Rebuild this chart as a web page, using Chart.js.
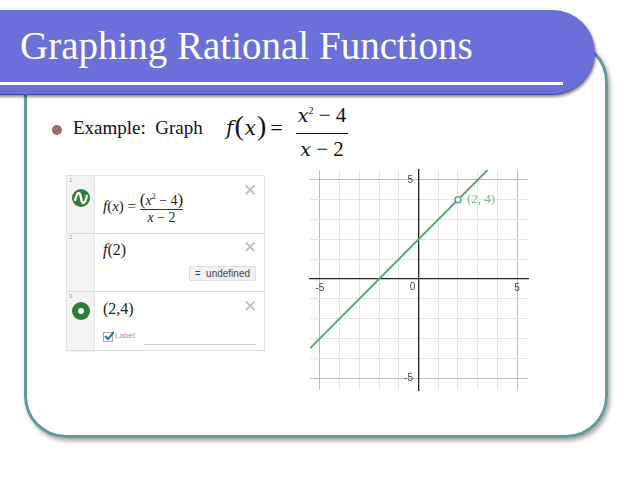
<!DOCTYPE html>
<html>
<head>
<meta charset="utf-8">
<script src="https://cdn.jsdelivr.net/npm/chart.js@4.4.1/dist/chart.umd.min.js"></script>
<style>
  html, body { margin: 0; padding: 0; background: #fff; }
  body { width: 638px; height: 478px; position: relative; overflow: hidden; font-family: "Liberation Serif", serif; }
  .frame { position: absolute; left: 24px; top: 40px; width: 578px; height: 392px;
           border: 3px solid #5f9b9a; border-radius: 42px;
           box-shadow: 2px 3px 4px rgba(0,0,0,0.35); }
  .banner { position: absolute; left: -40px; top: 10px; width: 635px; height: 84px;
            background: #6b6fd9; border-radius: 0 43px 43px 0;
            box-shadow: 1px 2px 3px rgba(0,0,0,0.45); border-bottom: 1px solid #4b4fa6; }
  .banner-line { position: absolute; left: 0; top: 82px; width: 563px; height: 3px; background: #fff; }
  .title { position: absolute; left: 20px; top: 24px; color: #fff; font-size: 39px; line-height: 44px; white-space: nowrap; }
  .bullet { position: absolute; left: 52px; top: 125px; width: 10px; height: 10px; border-radius: 50%; background: #9a6a6b; }
  .example { position: absolute; left: 73px; top: 117px; font-size: 19px; color: #111; white-space: nowrap; }
  .fx { position: absolute; left: 226px; top: 110px; font-size: 22px; color: #111; white-space: nowrap; }
  .fx i { font-family: "DejaVu Serif", serif; font-size: 20px; }
  .fx .p { font-size: 28px; margin: 0 1px; }
  .fx .eq { margin-left: 3px; }
  .frac { position: absolute; left: 296px; top: 103px; width: 52px; font-size: 21px; color: #111; text-align: center; }
  .frac i { font-family: "DejaVu Serif", serif; font-size: 19px; }
  .frac .num { height: 28px; }
  .frac .bar { height: 1px; background: #111; margin: 2px 0 3px 0; }

  .panel { position: absolute; left: 66px; top: 175px; width: 197px; height: 176px; border: 1px solid #e2e2e2; border-bottom: none; background: #fff; overflow: hidden; }
  .col { position: absolute; left: 0; top: 0; width: 27px; height: 176px; background: #f3f3f3; border-right: 1px solid #e6e6e6; }
  .row { position: absolute; left: 0; width: 197px; border-bottom: 1px solid #dcdcdc; }
  .idx { position: absolute; left: 2px; top: 1px; font: 6px "Liberation Sans", sans-serif; color: #999; }
  .close { position: absolute; right: 7px; top: 4px; font: 17px "Liberation Sans", sans-serif; color: #bdbdbd; }
  .icon { position: absolute; left: 5px; width: 18px; height: 18px; border-radius: 50%; background: #2d7d3a; }
  .expr { position: absolute; left: 36px; font-family: "Liberation Serif", serif; color: #222; white-space: nowrap; }
  .undef { position: absolute; right: 8px; top: 33px; padding: 1px 5px; font: 10px "Liberation Sans", sans-serif; color: #444; background: #f1f1f1; border: 1px solid #ddd; border-radius: 2px; }
  .chk { position: absolute; left: 36px; top: 40px; width: 8px; height: 8px; border: 1px solid #aaa; background: #fff; }
  .lbl { position: absolute; left: 48px; top: 39px; font: 8px "Liberation Sans", sans-serif; color: #999; }
  .uline { position: absolute; left: 77px; top: 52px; width: 112px; height: 1px; background: #ccc; }

  .graph { position: absolute; left: 300px; top: 160px; width: 240px; height: 240px; }
</style>
</head>
<body>
<div class="frame"></div>
<div class="banner"></div>
<div class="banner-line"></div>
<div class="title">Graphing Rational Functions</div>

<div class="bullet"></div>
<div class="example">Example:&nbsp; Graph</div>
<div class="fx"><i>f</i><span class="p">(</span><i>x</i><span class="p">)</span><span class="eq">=</span></div>
<div class="frac">
  <div class="num"><i>x</i><sup style="font-size:10px">2</sup> &minus; 4</div>
  <div class="bar"></div>
  <div class="den"><i>x</i> &minus; 2</div>
</div>

<div class="panel">
  <div class="col"></div>
  <div class="row" style="top:0;height:57px">
    <div class="idx">1</div>
    <div class="icon" style="top:13px">
      <svg width="18" height="18" viewBox="0 0 18 18"><path d="M3 12 C5 2, 8 2, 9 9 S13 16, 15 6" stroke="#fff" stroke-width="2.4" fill="none"/></svg>
    </div>
    <div class="close">&#x2715;</div>
    <div class="expr" style="top:13px;font-size:15px"><i>f</i>(<i>x</i>) = 
      <span style="display:inline-block;vertical-align:middle;text-align:center;font-size:14px;line-height:16px">
        <span style="display:block;border-bottom:1px solid #333"><span style="font-size:17px">(</span><i>x</i><sup style="font-size:8px">2</sup> &minus; 4<span style="font-size:17px">)</span></span>
        <span style="display:block"><i>x</i> &minus; 2</span>
      </span>
    </div>
  </div>
  <div class="row" style="top:57px;height:58px">
    <div class="idx">2</div>
    <div class="close">&#x2715;</div>
    <div class="expr" style="top:8px;font-size:16px"><i>f</i>(2)</div>
    <div class="undef">=&nbsp; undefined</div>
  </div>
  <div class="row" style="top:116px;height:58px">
    <div class="idx">3</div>
    <div class="icon" style="top:10px"><div style="position:absolute;left:6px;top:6px;width:6px;height:6px;border-radius:50%;background:#fff"></div></div>
    <div class="close">&#x2715;</div>
    <div class="expr" style="top:8px;font-size:16px">(2,4)</div>
    <div class="chk"><svg width="10" height="10" viewBox="0 0 10 10" style="position:absolute;left:0;top:-2px"><path d="M1 5 L4 8 L10 1" stroke="#2b6fc4" stroke-width="2" fill="none"/></svg></div>
    <div class="lbl">Label:</div>
    <div class="uline"></div>
  </div>
</div>

<div class="graph"><canvas id="graphChart"></canvas></div>

<script>
// f(x) = (x^2 - 4)/(x - 2) simplifies to the line y = x + 2, with a hole at x = 2
var lineX = [-5.5, 2, 3.5];
var lineY = [-3.5, 4, 5.5];
var holeX = [2];
var holeY = [4];
var holeLabel = '(2, 4)';
var gridTicks = [-5, -4, -3, -2, -1, 0, 1, 2, 3, 4, 5];
var tickLabels = [-5, 5];

var green = '#62a672';

var linePoints = lineX.map(function (x, i) { return { x: x, y: lineY[i] }; });
var holePoints = holeX.map(function (x, i) { return { x: x, y: holeY[i] }; });

var gridColor = function (c) {
  if (c.tick.value === 0) return 'rgba(0,0,0,0)';
  return c.tick.value % 5 === 0 ? '#bdbdbd' : '#e4e4e4';
};
// chart.js merges ticks near min/max, so set the unit grid by hand
var fixedTicks = function (axis) {
  axis.ticks = gridTicks.map(function (v) { return { value: v }; });
};
var xTickText = function (v) { return tickLabels.indexOf(v) >= 0 ? String(v) : ''; };
// centred y axis ignores padding, trailing spaces keep the label off the line
var yTickText = function (v) { return tickLabels.indexOf(v) >= 0 ? String(v) + '  ' : ''; };
var tickFont = { size: 10, family: '"Liberation Sans", sans-serif' };

var extras = {
  id: 'extras',
  afterDatasetsDraw: function (chart) {
    var c = chart.ctx, sx = chart.scales.x, sy = chart.scales.y;
    c.save();
    // origin label
    c.fillStyle = '#444';
    c.font = '10px "Liberation Sans", sans-serif';
    c.textAlign = 'center';
    c.textBaseline = 'top';
    c.fillText('0', sx.getPixelForValue(0) - 6, sy.getPixelForValue(0) + 3);
    // hole label
    var pt = chart.getDatasetMeta(0).data[0];
    c.fillStyle = '#7cb78a';
    c.font = '13px "Liberation Serif", serif';
    c.textAlign = 'left';
    c.textBaseline = 'middle';
    c.fillText(holeLabel, pt.x + 9, pt.y);
    c.restore();
  }
};

var ctx = document.getElementById('graphChart').getContext('2d');
var graphChart = new Chart(ctx, {
  type: 'scatter',
  data: {
    datasets: [{
      data: holePoints,
      pointRadius: 3,
      pointBorderWidth: 1.6,
      pointBorderColor: green,
      pointBackgroundColor: '#fff',
      showLine: false
    }, {
      data: linePoints,
      showLine: true,
      borderColor: green,
      borderWidth: 2,
      pointRadius: 0
    }]
  },
  options: {
    responsive: true,
    maintainAspectRatio: false,
    animation: false,
    layout: { padding: { left: 10, right: 12, top: 10, bottom: 10 } },
    plugins: { legend: { display: false }, tooltip: { enabled: false } },
    scales: {
      x: {
        type: 'linear',
        position: { y: 0 },
        min: -5.5, max: 5.55,
        afterBuildTicks: fixedTicks,
        ticks: { autoSkip: false, maxRotation: 0, padding: 3, color: '#444', font: tickFont, callback: xTickText },
        grid: { color: gridColor, drawTicks: false, lineWidth: 1 },
        border: { color: '#222', width: 1.3 }
      },
      y: {
        type: 'linear',
        position: { x: 0 },
        min: -5.6, max: 5.5,
        afterBuildTicks: fixedTicks,
        ticks: { autoSkip: false, padding: 3, color: '#444', font: tickFont, callback: yTickText },
        grid: { color: gridColor, drawTicks: false, lineWidth: 1 },
        border: { color: '#222', width: 1.3 }
      }
    }
  },
  plugins: [extras]
});
</script>
</body>
</html>
